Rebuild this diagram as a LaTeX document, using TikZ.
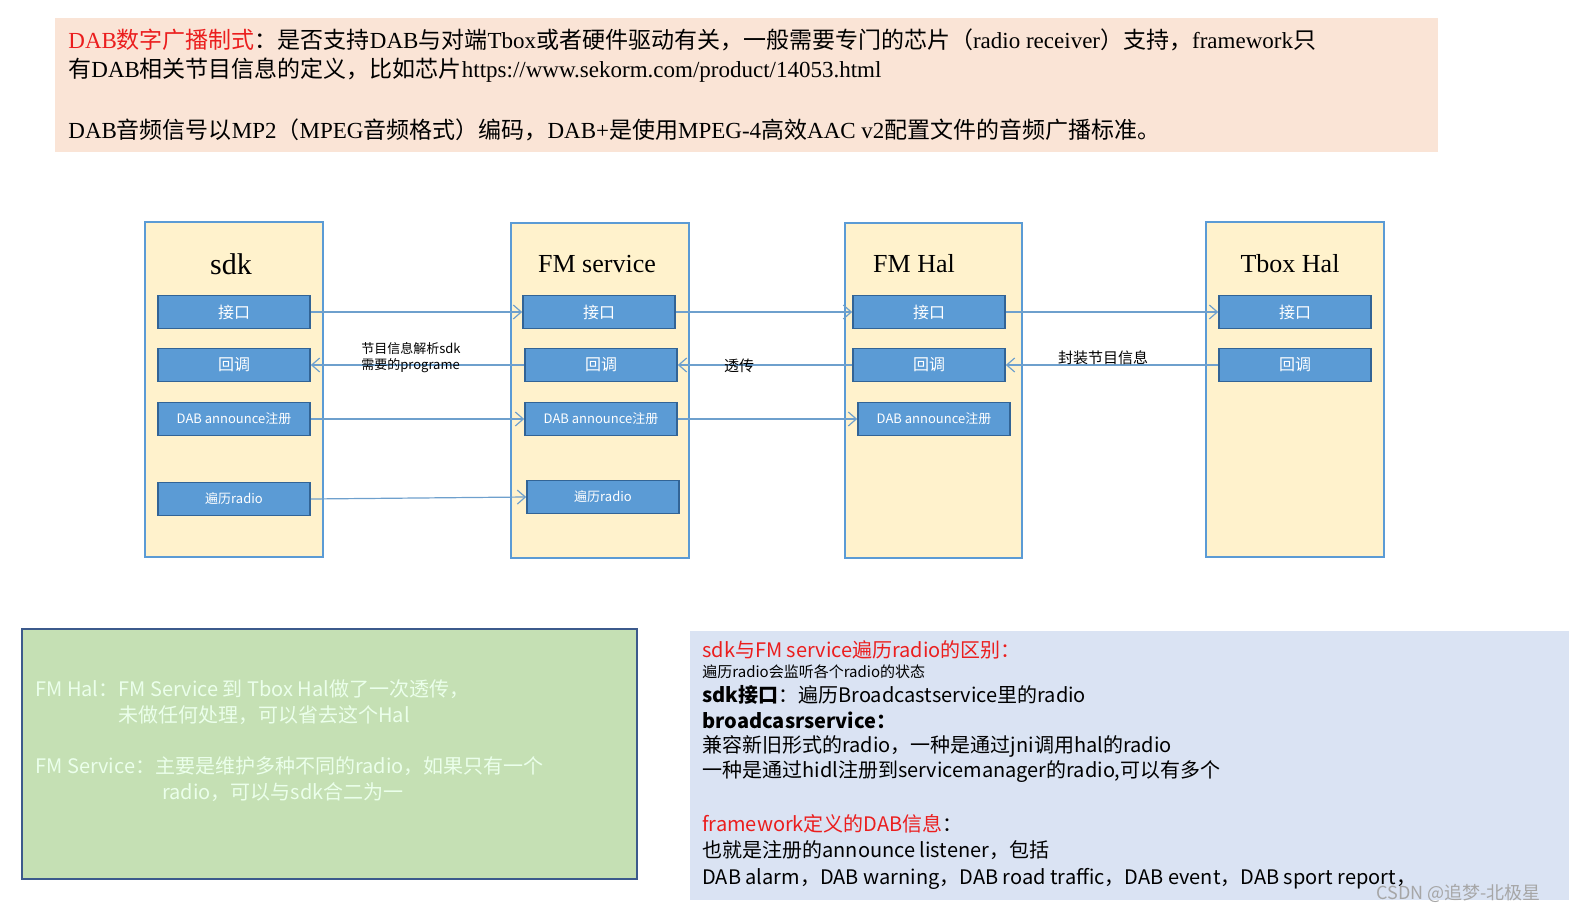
\documentclass[tikz,border=0pt]{standalone}
\usepackage{fontspec}
\setmainfont{Liberation Serif}
\newfontfamily\cjk{Noto Sans CJK SC}
\usetikzlibrary{arrows.meta}
\definecolor{peach}{RGB}{250,228,214}
\definecolor{colfill}{RGB}{255,242,204}
\definecolor{colbd}{RGB}{91,155,213}
\definecolor{btn}{RGB}{91,155,213}
\definecolor{btnbd}{RGB}{50,100,150}
\definecolor{greenf}{RGB}{197,224,180}
\definecolor{greenbd}{RGB}{60,90,140}
\definecolor{bluef}{RGB}{218,227,243}
\definecolor{redt}{RGB}{235,30,30}
\definecolor{arr}{RGB}{110,160,205}
\tikzset{
 col/.style={draw=colbd,fill=colfill,line width=1pt},
 btnbox/.style={draw=btnbd,fill=btn,line width=0.8pt,text=white,font=\cjk\fontsize{8}{9}\selectfont},
 ttl/.style={font=\fontsize{13}{15}\selectfont},
 link/.style={draw=arr,line width=0.6pt,-{Straight Barb[length=4pt,width=7pt]}},
 lbl/.style={font=\cjk\fontsize{6.5}{8}\selectfont,align=left},
 txt/.style={anchor=west,font=\cjk\fontsize{10}{12}\selectfont,inner sep=0},
}
\begin{document}
\begin{tikzpicture}[x=0.5pt,y=-0.5pt]
\useasboundingbox (0,0) rectangle (1569,914);
% top box
\fill[peach] (55,18) rectangle (1438,152);
\node[anchor=west,inner sep=0,font=\fontsize{11.5}{13}\selectfont] (t1) at (68,40) {\textcolor{redt}{DAB{\cjk 数字广播制式}}{\cjk ：是否支持}DAB{\cjk 与对端}Tbox{\cjk 或者硬件驱动有关，一般需要专门的芯片（}radio receiver{\cjk ）支持，}framework{\cjk 只}};
\node[anchor=west,inner sep=0,font=\fontsize{11.5}{13}\selectfont] (t2) at (68,70) {{\cjk 有}DAB{\cjk 相关节目信息的定义，比如芯片}https://www.sekorm.com/product/14053.html};
\node[anchor=west,inner sep=0,font=\fontsize{11.5}{13}\selectfont] (t3) at (68,130) {DAB{\cjk 音频信号以}MP2{\cjk （}MPEG{\cjk 音频格式）编码，}DAB+{\cjk 是使用}MPEG-4{\cjk 高效}AAC v2{\cjk 配置文件的音频广播标准。}};
% columns
\draw[col] (145,222) rectangle (323,557);
\draw[col] (511,223) rectangle (689,558);
\draw[col] (845,223) rectangle (1022,558);
\draw[col] (1206,222) rectangle (1384,557);
\node[ttl,font=\fontsize{15}{17}\selectfont] (c1) at (231,264) {sdk};
\node[ttl] (c2) at (597,264) {FM service};
\node[ttl] (c3) at (914,264) {FM Hal};
\node[ttl] (c4) at (1290,264) {Tbox Hal};
% buttons
\newcommand{\btnat}[6]{\node[btnbox,minimum width=#3*0.5pt-#2*0.5pt,minimum height=33*0.5pt,inner sep=0] (#1) at ({(#2+#3)/2},#4) {#5#6};}
\btnat{a1}{158}{310}{312}{接口}{}
\btnat{a2}{158}{310}{365}{回调}{}
\btnat{a3}{158}{310}{419}{\fontsize{6.5}{8}\selectfont DAB announce注册}{}
\btnat{a4}{158}{310}{499}{\fontsize{6.5}{8}\selectfont 遍历radio}{}
\btnat{b1}{523}{675}{312}{接口}{}
\btnat{b2}{525}{677}{365}{回调}{}
\btnat{b3}{525}{677}{419}{\fontsize{6.5}{8}\selectfont DAB announce注册}{}
\btnat{b4}{527}{679}{497}{\fontsize{6.5}{8}\selectfont 遍历radio}{}
\btnat{h1}{853}{1005}{312}{接口}{}
\btnat{h2}{853}{1005}{365}{回调}{}
\btnat{h3}{858}{1010}{419}{\fontsize{6.5}{8}\selectfont DAB announce注册}{}
\btnat{k1}{1219}{1371}{312}{接口}{}
\btnat{k2}{1219}{1371}{365}{回调}{}
% links
\draw[link] (a1) -- (b1);
\draw[link] (b2) -- (a2);
\draw[link] (a3) -- (b3);
\draw[link] (a4.east) -- (b4.west);
\draw[link] (b1) -- (h1);
\draw[link] (h2) -- (b2);
\draw[link] (b3) -- (h3);
\draw[link] (h1) -- (k1);
\draw[link] (k2) -- (h2);
\node[lbl] (l1) at (411,358) {节目信息解析sdk\\需要的programe};
\node[lbl,fill=colfill,fill opacity=0,text opacity=1,font=\cjk\fontsize{7.5}{9}\selectfont] (l2) at (739,366) {透传};
\node[lbl,font=\cjk\fontsize{7.5}{9}\selectfont] (l3) at (1103,358) {封装节目信息};
% green box
\draw[fill=greenf,draw=greenbd,line width=1pt] (22,629) rectangle (637,879);
\begin{scope}[every node/.style={txt,text=white!92!green}]
\node (g1) at (35,689) {FM Hal：FM Service 到 Tbox Hal做了一次透传，};
\node (g2) at (118,715) {未做任何处理，可以省去这个Hal};
\node (g3) at (35,766) {FM Service：主要是维护多种不同的radio，如果只有一个};
\node (g4) at (162,792) {radio，可以与sdk合二为一};
\end{scope}
% blue box
\fill[bluef] (690,631) rectangle (1569,900);
\node[txt,text=redt] (r1) at (702,650) {sdk与FM service遍历radio的区别：};
\node[txt,font=\cjk\fontsize{7.5}{9}\selectfont] (r2) at (702,672) {遍历radio会监听各个radio的状态};
\node[txt] (r3) at (702,695) {\textbf{sdk接口}：遍历Broadcastservice里的radio};
\node[txt] (r4) at (702,720) {\textbf{broadcasrservice：}};
\node[txt] (r5) at (702,746) {兼容新旧形式的radio，一种是通过jni调用hal的radio};
\node[txt] (r6) at (702,772) {一种是通过hidl注册到servicemanager的radio,可以有多个};
\node[txt] (r7) at (702,824) {\textcolor{redt}{framework定义的DAB信息}：};
\node[txt] (r8) at (702,850) {也就是注册的announce listener，包括};
\node[txt] (r9) at (702,879) {DAB alarm，DAB warning，DAB road traffic，DAB event，DAB sport report，};
\node[txt,font=\cjk\fontsize{9}{11}\selectfont,text=gray!70] (wm) at (1376,893) {CSDN @追梦-北极星};
\end{tikzpicture}
\end{document}
